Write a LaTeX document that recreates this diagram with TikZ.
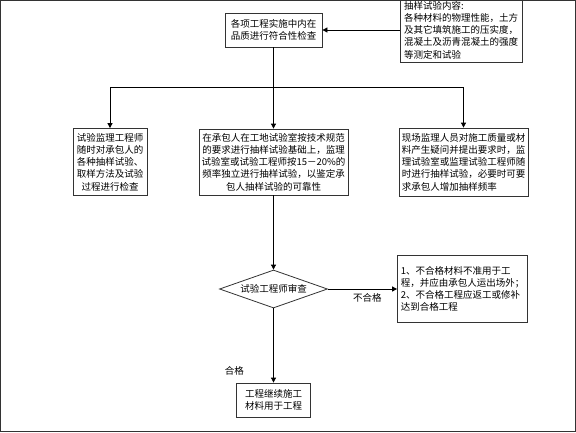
\documentclass[tikz,border=0pt]{standalone}
\usepackage{fontspec}
\setmainfont{Noto Sans CJK SC}
\usepackage{tikz}
\usetikzlibrary{arrows.meta, positioning, shapes.geometric}

\begin{document}
\begin{tikzpicture}[x=1pt, y=-1pt,
			font=\fontsize{9.5}{12.2}\selectfont,
			box/.style={draw=black!80, line width=0.8pt, rectangle, inner sep=2pt, align=center},
			textbox/.style={box, align=left, inner xsep=2pt},
			check/.style={diamond, draw=black!80, line width=0.8pt, aspect=2.84, inner sep=0pt, minimum width=108pt, minimum height=38pt},
			arr/.style={line width=0.8pt, -{Triangle[length=5pt, width=5pt]}},
			link/.style={line width=0.8pt}
			]
			\useasboundingbox (0,0) rectangle (576,432);
			\draw[black!80, line width=1pt] (0.5,0.5) rectangle (575.5,431.5);
			\node [box, minimum width=97pt, minimum height=34pt](quality) at (273.5,30) {各项工程实施中内在\\品质进行符合性检查};
			\node [textbox, minimum width=122pt, minimum height=64pt](content) [right of=quality, node distance=187.5pt] {抽样试验内容:\\各种材料的物理性能，土方\\及其它填筑施工的压实度，\\混凝土及沥青混凝土的强度\\等测定和试验};
			\node [box, minimum width=149pt, minimum height=66pt](sample) [below of=quality, node distance=132pt] {在承包人在工地试验室按技术规范\\的要求进行抽样试验基础上，监理\\试验室或试验工程师按15－20\%的\\频率独立进行抽样试验，以鉴定承\\包人抽样试验的可靠性};
			\node [box, minimum width=74pt, minimum height=67pt](inspect) [left of=sample, node distance=163.5pt] {试验监理工程师\\随时对承包人的\\各种抽样试验、\\取样方法及试验\\过程进行检查};
			\node [textbox, minimum width=129pt, minimum height=68pt](extra) [right of=sample, node distance=190pt] {现场监理人员对施工质量或材\\料产生疑问并提出要求时，监\\理试验室或监理试验工程师随\\时进行抽样试验，必要时可要\\求承包人增加抽样频率};
			\node [check](review) [below of=sample, node distance=127pt] {试验工程师审查};
			\node [textbox, inner xsep=1pt, minimum width=130pt, minimum height=67pt](reject) [right of=review, node distance=189pt] {1、不合格材料不准用于工\\程，并应由承包人运出场外；\\2、不合格工程应返工或修补\\达到合格工程};
			\node [box, minimum width=74pt, minimum height=34pt](pass) [below of=review, node distance=111pt] {工程继续施工\\材料用于工程};
			\coordinate (fork) at (273.5,87);
			\draw[arr] (content) -- (quality);
			\draw[arr] (quality) -- (sample);
			\draw[link] (fork -| inspect) -- (fork -| extra);
			\draw[arr] (fork -| inspect) -- (inspect);
			\draw[arr] (fork -| extra) -- (extra);
			\draw[arr] (sample) -- (review);
			\draw[arr] (review) -- (reject) node[pos=0.57, below=1pt] {不合格};
			\draw[arr] (review) -- (pass) node[pos=0.84, left=26pt] {合格};
		\end{tikzpicture}
\end{document}
